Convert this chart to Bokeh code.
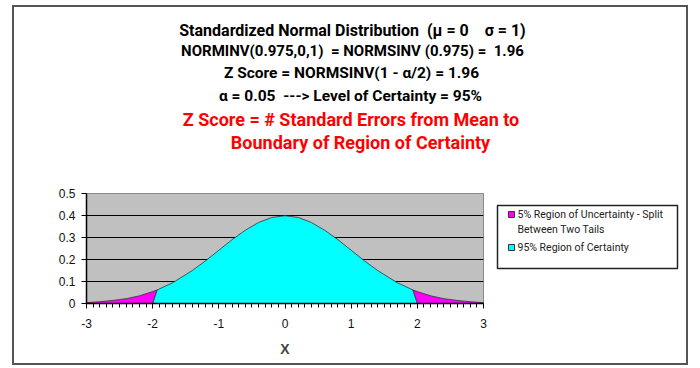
from bokeh.plotting import figure
from bokeh.layouts import column, row
from bokeh.models import Label, FixedTicker, Range1d
from bokeh.core.properties import value
from bokeh.embed import file_html
from bokeh.resources import INLINE

# ---- data ----
left_tail_x = [-3.0, -2.8, -2.6, -2.4, -2.2, -2.0, -1.93]
left_tail_y = [0.004, 0.008, 0.014, 0.022, 0.035, 0.054, 0.062]
center_x = [-1.93, -1.7, -1.4, -1.2, -1.0, -0.8, -0.6, -0.4, -0.2, 0.0,
            0.2, 0.4, 0.6, 0.8, 1.0, 1.2, 1.4, 1.7, 1.93]
center_y = [0.062, 0.094, 0.150, 0.194, 0.242, 0.290, 0.333, 0.368, 0.391, 0.399,
            0.391, 0.368, 0.333, 0.290, 0.242, 0.194, 0.150, 0.094, 0.062]
right_tail_x = [1.93, 2.0, 2.2, 2.4, 2.6, 2.8, 3.0]
right_tail_y = [0.062, 0.054, 0.035, 0.022, 0.014, 0.008, 0.004]
tail_edge = 2.0
x_ticks = [-3, -2, -1, 0, 1, 2, 3]
x_tick_labels = ["-3", "-2", "-1", "0", "1", "2", "3"]
y_ticks = [0, 0.1, 0.2, 0.3, 0.4, 0.5]
legend_labels = ["5% Region of Uncertainty - Split\nBetween Two Tails",
                 "95% Region of Certainty"]
legend_colors = ["#ff00ff", "#00ffff"]
NB = "\u00a0"
title_lines = [
    "Standardized Normal Distribution " + NB + "(\u03bc = 0 " + NB * 3 + "\u03c3 = 1)",
    "NORMINV(0.975,0,1) " + NB + "= NORMSINV (0.975) = " + NB + "1.96",
    "Z Score = NORMSINV(1 - \u03b1/2) = 1.96",
    "\u03b1 = 0.05 " + NB + "---> Level of Certainty = 95%",
]
red_lines = ["Z Score = # Standard Errors from Mean to",
             "Boundary of Region of Certainty"]

FONT = "Roboto, Liberation Sans, sans-serif"

# ---------------- title area ----------------
TW, TH = 672, 176
tf = figure(width=TW, height=TH, output_backend="svg", toolbar_location=None,
            x_range=Range1d(0, TW), y_range=Range1d(TH, 0), min_border=0,
            x_axis_type=None, y_axis_type=None)
tf.xgrid.visible = False
tf.ygrid.visible = False
tf.outline_line_color = None
tf.background_fill_color = "white"
tf.border_fill_color = "white"

title_specs = [  # (text, colour, size, centre x, centre y) in title-area pixels
    (title_lines[0], "black", "16px", 338, 23),
    (title_lines[1], "black", "15px", 338, 43),
    (title_lines[2], "black", "15.5px", 337, 65),
    (title_lines[3], "black", "15.5px", 336, 88),
    (red_lines[0], "#ff0000", "18px", 336.5, 112),
    (red_lines[1], "#ff0000", "18px", 346, 135),
]
for txt, col, size, cx, cy in title_specs:
    tf.add_layout(Label(x=cx, y=cy, text=txt, text_align="center",
                        text_baseline="middle", text_font=FONT,
                        text_font_style="bold", text_font_size=size,
                        text_color=col))

# ---------------- chart ----------------
PW, PH = 478, 180
p = figure(width=PW, height=PH, output_backend="svg", toolbar_location=None,
           x_range=Range1d(-3, 3), y_range=Range1d(0, 0.5),
           min_border_left=72, min_border_right=9,
           min_border_top=10, min_border_bottom=60)
p.background_fill_color = "#c0c0c0"
p.border_fill_color = "white"
p.outline_line_color = "#8a8a8a"
p.outline_line_width = 1

p.xgrid.visible = False
p.ygrid.ticker = FixedTicker(ticks=y_ticks)
p.ygrid.grid_line_color = "black"
p.ygrid.grid_line_width = 1

lt_xs = [-3.0] + left_tail_x + [-tail_edge]
lt_ys = [0.0] + left_tail_y + [0.0]
rt_xs = [tail_edge] + right_tail_x + [3.0]
rt_ys = [0.0] + right_tail_y + [0.0]
c_xs = [-tail_edge] + center_x + [tail_edge]
c_ys = [0.0] + center_y + [0.0]

p.patches([lt_xs, rt_xs], [lt_ys, rt_ys], fill_color=legend_colors[0],
          line_color="#333333", line_width=0.8)
p.patch(c_xs, c_ys, fill_color=legend_colors[1], line_color="#333333",
        line_width=0.8)

p.xaxis.ticker = FixedTicker(ticks=x_ticks,
                             minor_ticks=[round(-3 + 0.1 * i, 1) for i in range(61)])
p.xaxis.major_label_overrides = {t: s for t, s in zip(x_ticks, x_tick_labels)}
p.yaxis.ticker = FixedTicker(ticks=y_ticks)
for ax in (p.xaxis, p.yaxis):
    ax.axis_line_color = "black"
    ax.axis_line_width = 1.5
    ax.major_tick_line_color = "black"
    ax.major_tick_out = 5
    ax.major_tick_in = 0
    ax.major_label_text_font = "Liberation Sans"
    ax.major_label_text_font_size = "12px"
    ax.major_label_text_color = "#111111"
p.xaxis.minor_tick_line_color = "black"
p.xaxis.minor_tick_out = 4
p.xaxis.minor_tick_in = 0
p.yaxis.minor_tick_line_color = None
p.xaxis.major_label_standoff = 10
p.yaxis.major_label_standoff = 6
p.xaxis.axis_label = "X"
p.xaxis.axis_label_text_font = "Liberation Sans"
p.xaxis.axis_label_text_font_style = "bold"
p.xaxis.axis_label_text_font_size = "14px"
p.xaxis.axis_label_standoff = 10

# ---------------- legend area (frame aligned with the chart frame) ----------------
LW, LH = 194, 180
lf = figure(width=LW, height=LH, output_backend="svg", toolbar_location=None,
            x_range=Range1d(0, LW), y_range=Range1d(110, 0),
            min_border_left=0, min_border_right=0,
            min_border_top=10, min_border_bottom=60,
            x_axis_type=None, y_axis_type=None)
lf.xgrid.visible = False
lf.ygrid.visible = False
lf.outline_line_color = None
lf.background_fill_color = "white"
lf.border_fill_color = "white"

lf.quad(left=[5], right=[185], top=[12], bottom=[75], fill_color="white",
        line_color="#222222", line_width=1.5)
item_y = [21, 54]
lf.quad(left=[16, 16], right=[22, 22],
        top=[y - 3 for y in item_y], bottom=[y + 3 for y in item_y],
        fill_color=legend_colors, line_color="#333333", line_width=1)
txt_lines, txt_y = [], []
for lab, yy in zip(legend_labels, item_y):
    for k, part in enumerate(lab.split("\n")):
        txt_lines.append(part)
        txt_y.append(yy + 15 * k)
lf.text(x=[25] * len(txt_lines), y=txt_y, text=txt_lines,
        text_baseline="middle", text_align="left",
        text_font=value(FONT), text_font_size=value("10.5px"),
        text_color="#222222")

layout = column(tf, row(p, lf, spacing=0), spacing=0,
                styles={"border": "2px solid #555555",
                        "transform": "translate(12px, 5px)"})

open("out.html", "w").write(file_html(layout, INLINE))
